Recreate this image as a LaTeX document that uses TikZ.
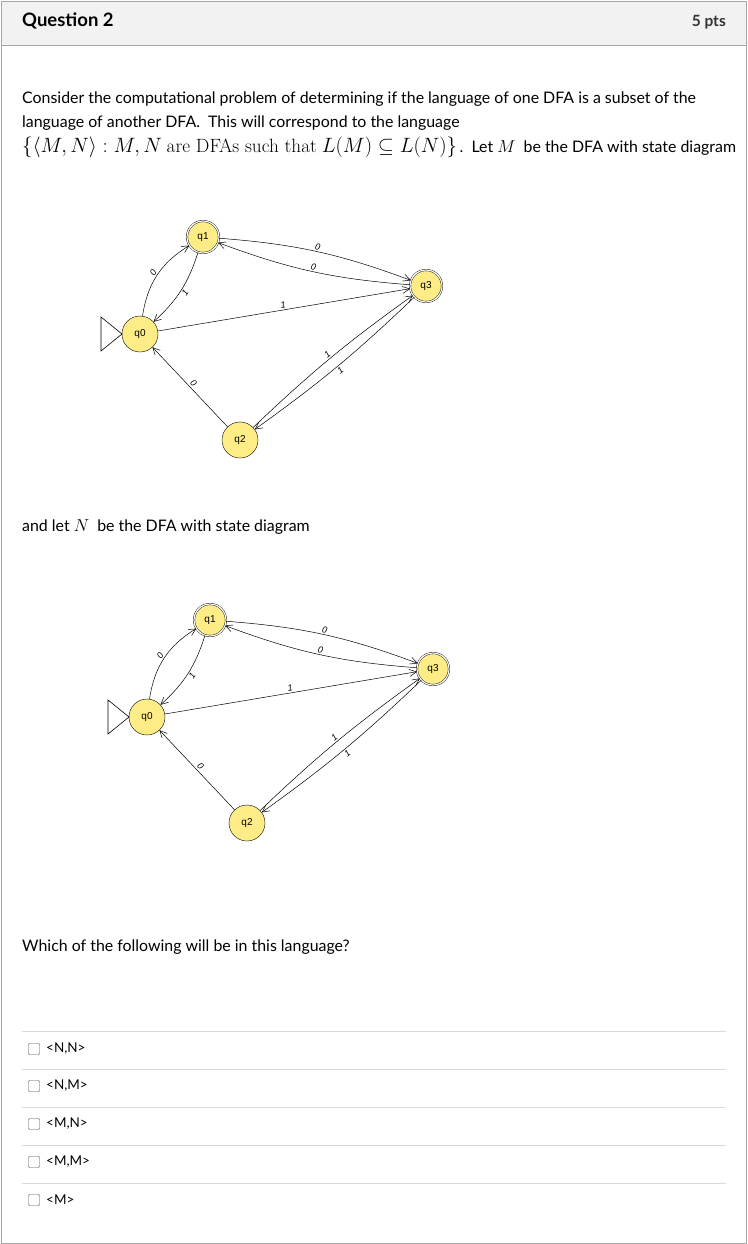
\documentclass[tikz,border=0pt]{standalone}
\usepackage{fontspec}
\setmainfont{Lato}
\newfontfamily\arialf{Liberation Sans}
\newfontfamily\lmr{Latin Modern Roman}
\usetikzlibrary{arrows.meta}
\begin{document}
\begin{tikzpicture}[x=1pt,y=-1pt,
  st/.style={circle,draw=black,fill=yellow!40!white!90!orange,minimum size=36pt,inner sep=0pt,font=\arialf\fontsize{10}{10}\selectfont},
  acc/.style={st,double,double distance=1.2pt,minimum size=32pt},
  tr/.style={-{Straight Barb[length=7pt,width=7pt]},line width=0.5pt},
  lb/.style={font=\arialf\itshape\fontsize{9}{9}\selectfont,sloped,inner sep=1.5pt},
  body/.style={anchor=base west,font=\fontsize{15.9}{16}\selectfont,inner sep=0pt},
  sep/.style={draw=black!15,line width=0.6pt},
  cb/.style={draw=black!70,rounded corners=1pt,minimum size=11pt,inner sep=0pt}]
\useasboundingbox (0,0) rectangle (747,1244);
\fill[black!5] (1,1) rectangle (746,45);
\draw[black!35] (1,1) rectangle (746,1243);
\draw[black!35] (1,45) -- (746,45);
\node[anchor=base west,font=\bfseries\fontsize{18.5}{18}\selectfont,inner sep=0pt] (title) at (22,27) {Question 2};
\node[anchor=base east,font=\bfseries\fontsize{15.5}{15}\selectfont,text=black!80,inner sep=0pt] (pts) at (726,27) {5 pts};
\node[body] (t1) at (22,104) {Consider the computational problem of determining if the language of one DFA is a subset of the};
\node[body] (t2) at (22,128) {language of another DFA.\ \ This will correspond to the language};
\node[body] (t3) at (22,152) {\fontsize{19.2}{19}\selectfont$\{\langle M,N\rangle : M,N\ \mbox{\lmr are DFAs such that}\ L(M)\subseteq L(N)\}$\fontsize{15.9}{16}\selectfont\,.\ \ Let \fontsize{19}{19}\selectfont$M$\fontsize{15.9}{16}\selectfont\ \ be the DFA with state diagram};
\node[body] (t4) at (22,531) {and let \fontsize{19}{19}\selectfont$N$\fontsize{15.9}{16}\selectfont\ \ be the DFA with state diagram};
\node[body] (t5) at (22,951) {Which of the following will be in this language?};
\foreach \s/\ox/\oy in {a/0/0,b/7/383}{
 \begin{scope}[shift={(\ox,\oy)}]
 \node[st] (\s0) at (140,334) {q0};
 \node[acc] (\s1) at (203,237) {q1};
 \node[acc] (\s3) at (426,286) {q3};
 \node[st] (\s2) at (240,440) {q2};
 \coordinate (\s i) at (122,334);
 \draw[line width=0.6pt] (\s i) -- (101,317) -- (101,351) -- cycle;
 \draw[tr] (\s0) to[bend left=25] node[lb,above] {0} (\s1);
 \draw[tr] (\s1) to[bend left=15] node[lb,below] {1} (\s0);
 \draw[tr] (\s1) to[bend left=8] node[lb,above] {0} (\s3);
 \draw[tr] (\s3) to[bend left=8] node[lb,above] {0} (\s1);
 \draw[tr] (\s0) -- node[lb,above,pos=0.5] {1} (\s3);
 \draw[tr] (\s2) -- node[lb,above] {0} (\s0);
 \draw[tr] (\s2) to[bend left=4] node[lb,above] {1} (\s3);
 \draw[tr] (\s3) to[bend left=4] node[lb,below] {1} (\s2);
 \end{scope}}
\foreach \y in {1031,1069,1107,1145,1183}{\draw[sep] (22,\y) -- (726,\y);}
\foreach \i/\y/\t in {1/1049/{<N,N>},2/1086/{<N,M>},3/1124/{<M,N>},4/1162/{<M,M>},5/1200/{<M>}}{
 \node[cb] (c\i) at (34,\y) {};
 \node[anchor=west,font=\fontsize{13.5}{13.5}\selectfont,inner sep=0pt] (o\i) at (46,\y) {\t};}
\end{tikzpicture}
\end{document}
